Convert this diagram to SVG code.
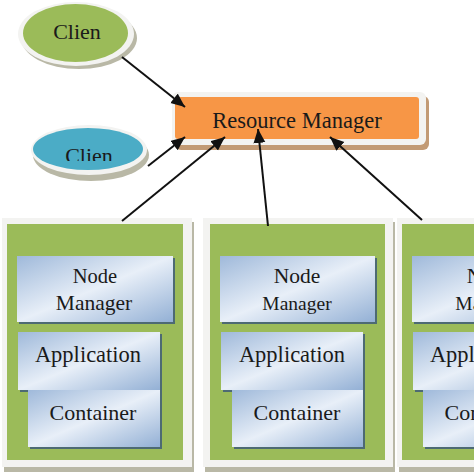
<svg xmlns="http://www.w3.org/2000/svg" width="474" height="474" viewBox="0 0 474 474">
<defs>
<linearGradient id="bg" x1="0" y1="0" x2="1" y2="1">
<stop offset="0" stop-color="#9fb9da"/>
<stop offset="0.5" stop-color="#e8eff8"/>
<stop offset="1" stop-color="#93b0d5"/>
</linearGradient>
<marker id="ah" markerUnits="userSpaceOnUse" markerWidth="16" markerHeight="14" refX="14" refY="6" orient="auto">
<path d="M0,0 L14,6 L0,12 Z" fill="#111"/>
</marker>
<clipPath id="cc"><rect x="0" y="120" width="200" height="41"/></clipPath>
</defs>
<style>
.t{font-family:"Liberation Serif",serif;fill:#1a1a1a;text-anchor:middle}
.wb{fill:#f3f3f1}
.sh{fill:#b9b8a6}
.gr{fill:#9bbb59}
.bx{fill:url(#bg)}
.bs{fill:#4d6a73}
.cn{stroke:#111;stroke-width:2;fill:none;marker-end:url(#ah)}
</style>
<g id="client1">
<ellipse cx="79" cy="38" rx="58" ry="31" class="sh"/>
<ellipse cx="76" cy="34" rx="58" ry="32" class="wb"/>
<ellipse cx="75.5" cy="33" rx="52.5" ry="29" fill="#9bbb59"/>
<text x="77" y="39" class="t" font-size="22">Clien</text>
</g>
<g id="client2">
<ellipse cx="91" cy="155" rx="58" ry="26" class="sh"/>
<ellipse cx="89" cy="150" rx="58" ry="25" class="wb"/>
<ellipse cx="88" cy="149" rx="55" ry="21" fill="#4bacc6"/>
<text x="89" y="163" class="t" font-size="22" clip-path="url(#cc)">Clien</text>
</g>
<g id="rm">
<rect x="175" y="96" width="254" height="54" rx="6" fill="#c29a74"/>
<rect x="172" y="92" width="254" height="53" rx="6" class="wb"/>
<rect x="175" y="97" width="244" height="42" rx="3" fill="#f79646"/>
<text x="297" y="128" class="t" font-size="22.5">Resource Manager</text>
</g>
<g id="node1">
<rect x="4" y="222" width="190" height="250" class="sh"/>
<rect x="2" y="218" width="190" height="249" class="wb"/>
<rect x="7" y="224" width="176" height="236" class="gr"/>
<rect x="19" y="258" width="156" height="66" class="bs"/>
<rect x="17" y="256" width="156" height="66" class="bx"/>
<rect x="20" y="334" width="142" height="58" class="bs"/>
<rect x="18" y="332" width="142" height="58" class="bx"/>
<rect x="30" y="392" width="132" height="57" class="bs"/>
<rect x="28" y="390" width="132" height="57" class="bx"/>
<text x="95" y="283" class="t" font-size="20.5">Node</text>
<text x="94" y="310" class="t" font-size="21.5">Manager</text>
<text x="88" y="362" class="t" font-size="22.5">Application</text>
<text x="93" y="420" class="t" font-size="22">Container</text>
</g>
<g id="node2">
<rect x="205" y="222" width="190" height="250" class="sh"/>
<rect x="203" y="218" width="190" height="249" class="wb"/>
<rect x="210" y="224" width="175" height="236" class="gr"/>
<rect x="222" y="258" width="155" height="66" class="bs"/>
<rect x="220" y="256" width="155" height="66" class="bx"/>
<rect x="223" y="334" width="142" height="58" class="bs"/>
<rect x="221" y="332" width="142" height="58" class="bx"/>
<rect x="234" y="392" width="131" height="57" class="bs"/>
<rect x="232" y="390" width="131" height="57" class="bx"/>
<text x="297" y="283" class="t" font-size="21.5">Node</text>
<text x="297" y="310" class="t" font-size="19.5">Manager</text>
<text x="292" y="362" class="t" font-size="22.5">Application</text>
<text x="297" y="420" class="t" font-size="22">Container</text>
</g>
<g id="node3">
<rect x="399" y="222" width="190" height="250" class="sh"/>
<rect x="397" y="218" width="190" height="249" class="wb"/>
<rect x="402" y="224" width="176" height="236" class="gr"/>
<rect x="414" y="258" width="156" height="66" class="bs"/>
<rect x="412" y="256" width="156" height="66" class="bx"/>
<rect x="415" y="334" width="142" height="58" class="bs"/>
<rect x="413" y="332" width="142" height="58" class="bx"/>
<rect x="425" y="392" width="132" height="57" class="bs"/>
<rect x="423" y="390" width="132" height="57" class="bx"/>
<text x="490" y="283" class="t" font-size="21.5">Node</text>
<text x="490" y="310" class="t" font-size="19.5">Manager</text>
<text x="483" y="362" class="t" font-size="22.5">Application</text>
<text x="488" y="420" class="t" font-size="22">Container</text>
</g>
<g id="connectors">
<line x1="122" y1="57" x2="185" y2="107" class="cn"/>
<line x1="148" y1="166" x2="185" y2="137" class="cn"/>
<line x1="122" y1="221" x2="225" y2="137" class="cn"/>
<line x1="268" y1="226" x2="258" y2="129" class="cn"/>
<line x1="422" y1="220" x2="330" y2="137" class="cn"/>
</g>
</svg>
